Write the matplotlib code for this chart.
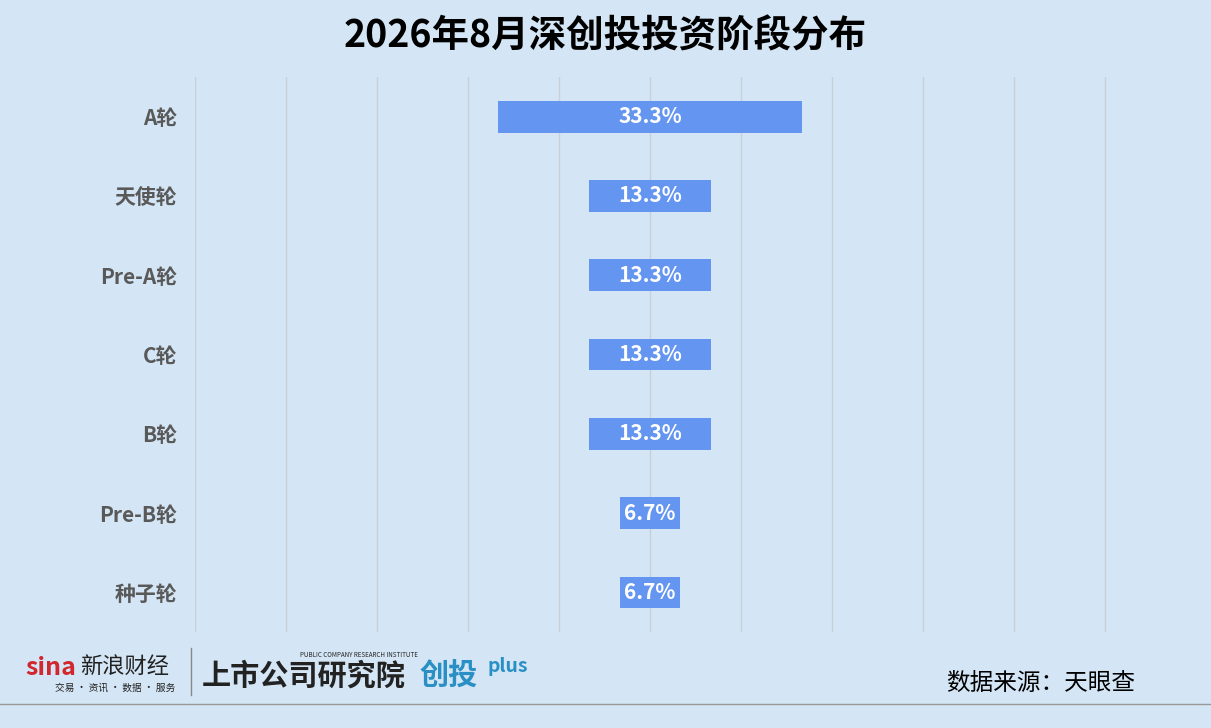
import matplotlib
matplotlib.use("Agg")
import matplotlib.pyplot as plt

plt.rcParams['font.family'] = ['Noto Sans CJK SC', 'DejaVu Sans']

categories = ["A轮", "天使轮", "Pre-A轮", "C轮", "B轮", "Pre-B轮", "种子轮"]
values = [33.3, 13.3, 13.3, 13.3, 13.3, 6.7, 6.7]
labels = ["33.3%", "13.3%", "13.3%", "13.3%", "13.3%", "6.7%", "6.7%"]

bg = "#d4e6f5"
W, H = 1211, 728
fig = plt.figure(figsize=(W/100, H/100), dpi=100, facecolor=bg)
ax = fig.add_axes([195/W, 1-632/H, (1108-195)/W, (632-77)/H], facecolor=bg)

ys = list(range(len(categories)))
lefts = [-v/2 for v in values]
ax.barh(ys, values, left=lefts, height=0.4, color="#6495f0", zorder=3)
for y, t in zip(ys, labels):
    ax.text(0, y, t, ha="center", va="center", color="white", fontsize=15, fontweight="bold", zorder=4)
ax.set_xlim(-50, 50.33)
ax.set_ylim(len(categories)-0.5, -0.5)
ax.set_xticks(range(-50, 51, 10))
ax.xaxis.grid(True, color="#c9cfd6", lw=1)
ax.tick_params(length=0, labelbottom=False)
ax.set_yticks(ys)
ax.set_yticklabels(categories, fontsize=15, fontweight="bold", color="#595959")
ax.tick_params(axis="y", pad=22 - 7 - 2)
for s in ax.spines.values():
    s.set_visible(False)

fig.text(605/W, 1-36/H, "2026年8月深创投投资阶段分布", ha="center", va="center", fontsize=27, fontweight="bold", color="black")
fig.text(1135/W, 1-683/H, "数据来源：天眼查", ha="right", va="center", fontsize=17, color="black")
fig.text(25/W, 1-668/H, "sina", ha="left", va="center", fontsize=18, fontweight="bold", color="#d0282e", style="italic")
fig.text(80/W, 1-666/H, "新浪财经", ha="left", va="center", fontsize=16, color="#222222")
fig.text(55/W, 1-688/H, "交易 · 资讯 · 数据 · 服务", ha="left", va="center", fontsize=7, color="#222222")
fig.add_artist(plt.Line2D([191/W, 191/W], [1-695/H, 1-648/H], color="#888888", lw=1))
fig.text(202/W, 1-676/H, "上市公司研究院", ha="left", va="center", fontsize=21, fontweight="bold", style="italic", color="#222222")
fig.text(300/W, 1-655/H, "PUBLIC COMPANY RESEARCH INSTITUTE", ha="left", va="center", fontsize=4.5, color="#222222")
fig.text(420/W, 1-676/H, "创投", ha="left", va="center", fontsize=21, fontweight="bold", style="italic", color="#2a8fc4")
fig.text(488/W, 1-666/H, "plus", ha="left", va="center", fontsize=14, fontweight="bold", style="italic", color="#2a8fc4")
fig.add_artist(plt.Line2D([0, 1], [1-704/H, 1-704/H], color="#999999", lw=1))

fig.savefig("out.png", dpi=100, facecolor=bg)
